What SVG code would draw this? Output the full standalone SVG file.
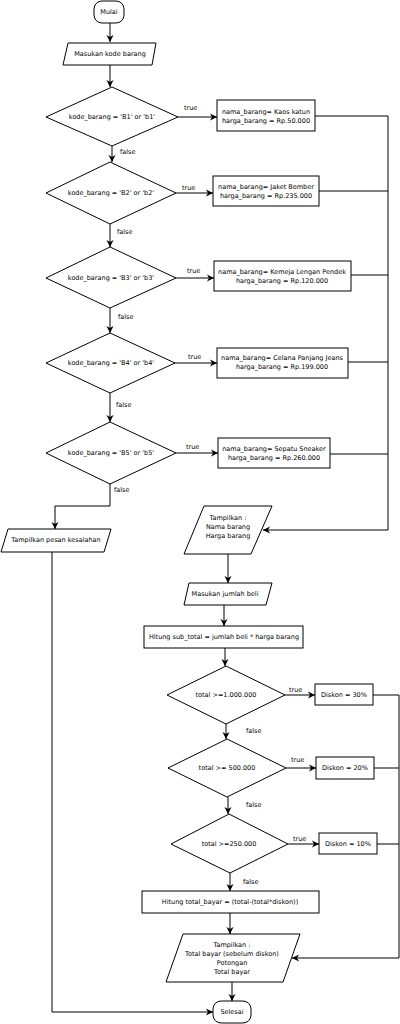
<svg xmlns="http://www.w3.org/2000/svg" width="400" height="1024" viewBox="0 0 400 1024">
<defs>
<style>
.s{fill:#fff;stroke:#000;stroke-width:1}
.c{fill:none;stroke:#000;stroke-width:1}
text{font-family:"DejaVu Sans","Noto Sans",sans-serif;font-size:6.5px;fill:#000;text-anchor:middle;dominant-baseline:central}
.l{text-anchor:start}
</style>
<marker id="a" markerWidth="8" markerHeight="8" refX="7" refY="4" orient="auto" markerUnits="userSpaceOnUse">
<path d="M0,0.5 L7,4 L0,7.5 L2,4 z" fill="#000"/>
</marker>
</defs>
<rect width="400" height="1024" fill="#fff"/>
<g id="connectors">
<path class="c" d="M110,23 V42" marker-end="url(#a)"/>
<path class="c" d="M110,65 V87" marker-end="url(#a)"/>
<path class="c" d="M178,117 H217" marker-end="url(#a)"/>
<path class="c" d="M112,146 V162" marker-end="url(#a)"/>
<path class="c" d="M176,193 H213" marker-end="url(#a)"/>
<path class="c" d="M110,224 V247" marker-end="url(#a)"/>
<path class="c" d="M176,278 H214" marker-end="url(#a)"/>
<path class="c" d="M110,308 V333" marker-end="url(#a)"/>
<path class="c" d="M175,363 H217" marker-end="url(#a)"/>
<path class="c" d="M110,393 V422" marker-end="url(#a)"/>
<path class="c" d="M176,453 H218" marker-end="url(#a)"/>
<path class="c" d="M110,484 V506 H55 V529" marker-end="url(#a)"/>
<path class="c" d="M315,116 H388 V530 H263" marker-end="url(#a)"/>
<path class="c" d="M319,191 H388"/>
<path class="c" d="M351,275 H388"/>
<path class="c" d="M348,362 H388"/>
<path class="c" d="M330,454 H388"/>
<path class="c" d="M228,554 V583" marker-end="url(#a)"/>
<path class="c" d="M224,605 V626" marker-end="url(#a)"/>
<path class="c" d="M225,648 V666" marker-end="url(#a)"/>
<path class="c" d="M285,695 H315" marker-end="url(#a)"/>
<path class="c" d="M226,724 V739" marker-end="url(#a)"/>
<path class="c" d="M286,768 H316" marker-end="url(#a)"/>
<path class="c" d="M228,797 V814" marker-end="url(#a)"/>
<path class="c" d="M288,844 H319" marker-end="url(#a)"/>
<path class="c" d="M230,873 V891" marker-end="url(#a)"/>
<path class="c" d="M373,695 H399 V958 H292" marker-end="url(#a)"/>
<path class="c" d="M374,768 H399"/>
<path class="c" d="M377,844 H399"/>
<path class="c" d="M230,913 V934" marker-end="url(#a)"/>
<path class="c" d="M232,982 V1001" marker-end="url(#a)"/>
<path class="c" d="M52,552 V1012 H213" marker-end="url(#a)"/>
<text x="184" y="108" class="l">true</text>
<text x="120" y="152" class="l">false</text>
<text x="182" y="188" class="l">true</text>
<text x="117" y="232" class="l">false</text>
<text x="187" y="271" class="l">true</text>
<text x="118" y="317" class="l">false</text>
<text x="188" y="357" class="l">true</text>
<text x="116" y="405" class="l">false</text>
<text x="186" y="447" class="l">true</text>
<text x="114" y="490" class="l">false</text>
<text x="289" y="690" class="l">true</text>
<text x="246" y="731" class="l">false</text>
<text x="291" y="760" class="l">true</text>
<text x="246" y="805" class="l">false</text>
<text x="293" y="839" class="l">true</text>
<text x="243" y="882" class="l">false</text>
</g>
<g id="mulai"><rect class="s" x="94" y="1" width="30" height="22" rx="8"/><text x="109" y="12">Mulai</text></g>
<g id="input-kode"><path class="s" d="M68,43 H156 L152,65 H63 Z"/><text x="110" y="54">Masukan kode barang</text></g>
<g id="d1"><path class="s" d="M112,87 L178,117 L112,146 L46,117 Z"/><text x="112" y="117">kode_barang = 'B1' or 'b1'</text></g>
<g id="p1"><rect class="s" x="217" y="100" width="98" height="31"/><text x="266" y="112">nama_barang= Kaos katun</text><text x="266" y="121">harga_barang = Rp.50.000</text></g>
<g id="d2"><path class="s" d="M110,162 L176,193 L110,224 L46,193 Z"/><text x="111" y="193">kode_barang = 'B2' or 'b2'</text></g>
<g id="p2"><rect class="s" x="213" y="176" width="106" height="30"/><text x="266" y="187">nama_barang= Jaket Bomber</text><text x="266" y="196">harga_barang = Rp.235.000</text></g>
<g id="d3"><path class="s" d="M110,247 L176,278 L110,308 L46,278 Z"/><text x="111" y="278">kode_barang = 'B3' or 'b3'</text></g>
<g id="p3"><rect class="s" x="214" y="261" width="137" height="30"/><text x="282" y="272">nama_barang= Kemeja Lengan Pendek</text><text x="282" y="281">harga_barang = Rp.120.000</text></g>
<g id="d4"><path class="s" d="M110,333 L175,363 L110,393 L46,363 Z"/><text x="111" y="363">kode_barang = 'B4' or 'b4'</text></g>
<g id="p4"><rect class="s" x="217" y="348" width="131" height="30"/><text x="282" y="358">nama_barang= Celana Panjang Jeans</text><text x="282" y="367">harga_barang = Rp.199.000</text></g>
<g id="d5"><path class="s" d="M110,422 L176,453 L110,484 L46,453 Z"/><text x="111" y="453">kode_barang = 'B5' or 'b5'</text></g>
<g id="p5"><rect class="s" x="218" y="438" width="112" height="30"/><text x="274" y="449">nama_barang= Sepatu Sneaker</text><text x="274" y="458">harga_barang = Rp.260.000</text></g>
<g id="error"><path class="s" d="M8,529 H111 L104,552 H1 Z"/><text x="56" y="540">Tampilkan pesan kesalahan</text></g>
<g id="show-barang"><path class="s" d="M204,506 H272 L251,554 H184 Z"/><text x="228" y="518">Tampilkan :</text><text x="228" y="527">Nama barang</text><text x="228" y="536">Harga barang</text></g>
<g id="input-jumlah"><path class="s" d="M189,583 H272 L266,605 H184 Z"/><text x="225" y="594">Masukan jumlah beli</text></g>
<g id="subtotal"><rect class="s" x="144" y="626" width="159" height="22"/><text x="224" y="637">Hitung sub_total = jumlah beli * harga barang</text></g>
<g id="d6"><path class="s" d="M226,666 L285,695 L226,724 L167,695 Z"/><text x="226" y="695">total &gt;=1.000.000</text></g>
<g id="k30"><rect class="s" x="315" y="684" width="58" height="21"/><text x="344" y="695">Diskon = 30%</text></g>
<g id="d7"><path class="s" d="M227,739 L286,768 L227,797 L168,768 Z"/><text x="227" y="768">total &gt;= 500.000</text></g>
<g id="k20"><rect class="s" x="316" y="757" width="58" height="22"/><text x="345" y="768">Diskon = 20%</text></g>
<g id="d8"><path class="s" d="M229,814 L288,844 L230,873 L171,844 Z"/><text x="229" y="844">total &gt;=250.000</text></g>
<g id="k10"><rect class="s" x="319" y="833" width="58" height="21"/><text x="348" y="844">Diskon = 10%</text></g>
<g id="totalbayar"><rect class="s" x="142" y="891" width="177" height="22"/><text x="230" y="902">Hitung total_bayar = (total-(total*diskon))</text></g>
<g id="show-total"><path class="s" d="M183,934 H300 L283,982 H166 Z"/><text x="232" y="945">Tampilkan :</text><text x="232" y="954">Total bayar (sebelum diskon)</text><text x="232" y="963">Potongan</text><text x="232" y="972">Total bayar</text></g>
<g id="selesai"><rect class="s" x="213" y="1001" width="38" height="22" rx="8"/><text x="232" y="1012">Selesai</text></g>
</svg>
